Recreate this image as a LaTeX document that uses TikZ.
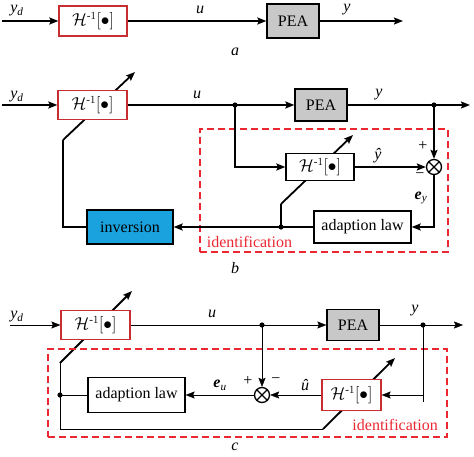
\documentclass[tikz,border=0pt]{standalone}
\usepackage{fontspec}
\usepackage{amsmath}
\setmainfont{Liberation Serif}
\usetikzlibrary{arrows.meta,backgrounds}
\definecolor{boxred}{RGB}{200,45,50}
\definecolor{dashred}{RGB}{235,40,50}
\definecolor{peagray}{RGB}{200,200,200}
\definecolor{invblue}{RGB}{25,162,222}
\newcommand\hinvtxt{$\mathcal{H}^{\text{-}1}[\bullet]$}
\newcommand\lyd{\textit{y}\textsubscript{\textit{d}}}
\begin{document}
\begin{tikzpicture}[x=1pt,y=-1pt,line width=1.6pt,
  font=\fontsize{16}{18}\selectfont,
  >={Stealth[length=9pt,width=7pt,inset=1.5pt]}]
\tikzset{
  boxb/.style={draw,fill=white,line width=1.3pt,inner sep=0pt},
  hred/.style={boxb,draw=boxred},
  pea/.style={boxb,fill=peagray},
  inv/.style={boxb,fill=invblue},
  idbox/.style={draw=dashred,dashed,dash pattern=on 7pt off 4pt,line width=1.4pt,inner sep=0pt},
  idlbl/.style={text=dashred},
  param/.style={line width=1.8pt,->},
  sumnode/.style={circle,draw,fill=white,minimum size=15pt,inner sep=0pt,line width=1.3pt,
    path picture={\draw[line width=1.2pt] (path picture bounding box.north west) -- (path picture bounding box.south east)
      (path picture bounding box.north east) -- (path picture bounding box.south west);}},
  lbl/.style={inner sep=0pt}
}
\useasboundingbox (0,0) rectangle (474,456);

% ---------------- panel a ----------------
\node[hred,minimum width=68pt,minimum height=30pt] (Ha) at (93,21) {\hinvtxt};
\node[pea,minimum width=52pt,minimum height=34pt] (Pa) at (293,21) {PEA};
\coordinate (ina) at (2,21);
\coordinate (outa) at (403,21);
\draw[->] (ina) -- (Ha);
\draw[->] (Ha) -- (Pa);
\draw[->] (Pa) -- (outa);
\node[lbl] (yda) at (17,11) {\lyd};
\node[lbl] (ua) at (200,10) {\textit{u}};
\node[lbl] (ya) at (347,10) {\textit{y}};
\node[lbl] (capa) at (235,52) {\textit{a}};

% ---------------- panel b ----------------
\node[idbox,minimum width=248pt,minimum height=123pt] (idb) at (324,190.5) {};
\node[idlbl,anchor=west,lbl] (idlb) at (206,242) {identification};
\node[hred,minimum width=69pt,minimum height=29pt] (Hb) at (92.5,105) {\hinvtxt};
\node[pea,minimum width=52pt,minimum height=32pt] (Pb) at (321,105) {PEA};
\node[boxb,minimum width=68pt,minimum height=27pt] (H2b) at (320,167) {\hinvtxt};
\node[sumnode] (Sb) at (434,167) {};
\node[boxb,minimum width=97pt,minimum height=32pt] (Ab) at (362.5,227) {adaption law};
\node[inv,minimum width=86pt,minimum height=34pt] (Ib) at (130,227) {inversion};
\coordinate (inb) at (2,105);
\coordinate (outb) at (470,105);
\coordinate (J1) at (235,105);
\coordinate (J2) at (434,105);
\coordinate (J3) at (281,227);
\coordinate (K1) at (235,167);
\coordinate (K2) at (434,227);
\coordinate (K3) at (63,227);
\coordinate (K4) at (63,140);
\coordinate (T1) at (135,72);
\coordinate (K5) at (281,204);
\coordinate (T2) at (353,135);
\draw[->] (inb) -- (Hb);
\draw (Hb) -- (J1);
\draw[->] (J1) -- (Pb);
\draw (Pb) -- (J2);
\draw[->] (J2) -- (outb);
\draw[->] (J2) -- (Sb);
\draw[->] (J1) -- (K1) -- (H2b);
\draw[->] (H2b) -- (Sb);
\draw[->] (Sb) -- (K2) -- (Ab);
\draw[->] (Ab) -- (Ib);
\draw (Ib) -- (K3) -- (K4);
\draw (J3) -- (K5);
\begin{pgfonlayer}{background}
\draw[param] (K4) -- (T1);
\draw[param] (K5) -- (T2);
\end{pgfonlayer}
\fill (J1) circle (2.6pt) (J2) circle (2.6pt) (J3) circle (2.6pt);
\node[lbl] (ydb) at (17,97) {\lyd};
\node[lbl] (ub) at (197,95) {\textit{u}};
\node[lbl] (yb) at (379,95) {\textit{y}};
\node[lbl] (yhb) at (378,156) {\textit{\^y}};
\node[lbl] (plb) at (423,146) {+};
\node[lbl] (mib) at (420,176) {\textminus};
\node[lbl] (eyb) at (421,198) {\textbf{\textit{e}}\textsubscript{\textit{y}}};
\node[lbl] (capb) at (235,268) {\textit{b}};

% ---------------- panel c ----------------
\node[idbox,minimum width=399pt,minimum height=88pt] (idc) at (247.5,393) {};
\node[idlbl,anchor=east,lbl] (idlc) at (438,425) {identification};
\node[hred,minimum width=69pt,minimum height=29pt] (Hc) at (95.5,325) {\hinvtxt};
\node[pea,minimum width=52pt,minimum height=31pt] (Pc) at (353,325) {PEA};
\node[sumnode] (Sc) at (262,395) {};
\node[hred,minimum width=59pt,minimum height=31pt] (H2c) at (351.5,395) {\hinvtxt};
\node[boxb,minimum width=97pt,minimum height=35pt] (Ac) at (136.5,395) {adaption law};
\coordinate (inc) at (10,325);
\coordinate (outc) at (463,325);
\coordinate (J4) at (262,325);
\coordinate (J5) at (423,325);
\coordinate (J6) at (60,395);
\coordinate (L1) at (423,402);
\coordinate (L2) at (423,395);
\coordinate (L3) at (60,363);
\coordinate (T3) at (132,291);
\coordinate (L4) at (60,429);
\coordinate (L5) at (323,429);
\coordinate (T4) at (395,358);
\draw[->] (inc) -- (Hc);
\draw (Hc) -- (J4);
\draw[->] (J4) -- (Pc);
\draw (Pc) -- (J5);
\draw[->] (J5) -- (outc);
\draw[->] (J4) -- (Sc);
\draw (J5) -- (L1);
\draw[->] (L2) -- (H2c);
\draw[->] (H2c) -- (Sc);
\draw[->] (Sc) -- (Ac);
\draw (Ac) -- (J6);
\draw (L4) -- (L3);
\draw (L4) -- (L5);
\begin{pgfonlayer}{background}
\draw[param] (L3) -- (T3);
\draw[param] (L5) -- (T4);
\end{pgfonlayer}
\fill (J4) circle (2.6pt) (J5) circle (2.6pt) (J6) circle (2.6pt);
\node[lbl] (ydc) at (17,317) {\lyd};
\node[lbl] (uc) at (212,314) {\textit{u}};
\node[lbl] (yc) at (415,311) {\textit{y}};
\node[lbl] (uhc) at (305,385) {\textit{\^u}};
\node[lbl] (plc) at (248,381) {+};
\node[lbl] (mic) at (276,381) {\textminus};
\node[lbl] (euc) at (220,385) {\textbf{\textit{e}}\textsubscript{\textit{u}}};
\node[lbl] (capc) at (235,447) {\textit{c}};
\end{tikzpicture}
\end{document}
